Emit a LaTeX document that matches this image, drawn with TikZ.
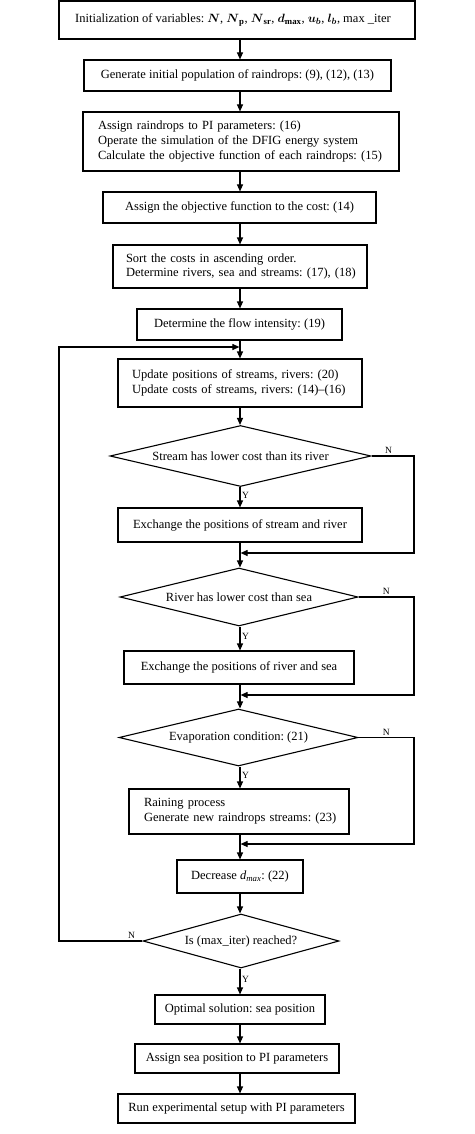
\documentclass[tikz,border=0pt]{standalone}
\usepackage{amsmath}
\usepackage{fontspec}
\setmainfont{Liberation Serif}
\usetikzlibrary{shapes.geometric,arrows.meta,calc}
\frenchspacing
\begin{document}
\begin{tikzpicture}[x=1pt,y=-1pt,
  font=\fontsize{12.5}{14.8}\selectfont,
  box/.style={draw, line width=1.1pt, inner sep=0pt, align=center},
  lbox/.style={draw, line width=1.1pt, inner ysep=0pt, align=left},
  dia/.style={draw, diamond, line width=1.1pt, inner sep=0pt, aspect=4},
  arr/.style={-{Triangle[length=7pt,width=6pt]}, line width=1.1pt},
  lbl/.style={font=\fontsize{9.5}{10}\selectfont, inner sep=1.5pt}]
\useasboundingbox (0,0) rectangle (474,1134);
\fill[white] (0,0) rectangle (474,1134);
\coordinate (sp) at (240,0);
\coordinate (rx) at (414,0);
\coordinate (lx) at (59,0);

\node[box, minimum width=356pt, minimum height=38pt] (b1) at (237,20)
 {Initialization of variables: $\boldsymbol{N}$, $\boldsymbol{N}_{\mathbf{p}}$,\ $\boldsymbol{N}_{\mathbf{sr}}$,\ $\boldsymbol{d}_{\mathbf{max}}$, $\boldsymbol{u_b}$, $\boldsymbol{l_b}$,\ $\mathrm{max\ \_iter}$\hspace{8pt}};
\node[box, minimum width=307pt, minimum height=31pt] (b2) at (237.5,75.5)
 {Generate initial population of raindrops: (9), (12), (13)};
\node[lbox, inner xsep=15pt, text width=286pt, minimum height=59pt] (b3) at (241,141.5)
 {\mbox{Assign raindrops to PI parameters: (16)}\\\mbox{Operate the simulation of the DFIG energy system}\\\mbox{Calculate the objective function of each raindrops: (15)}};
\node[box, minimum width=273pt, minimum height=31pt] (b4) at (239.5,207.5)
 {Assign the objective function to the cost: (14)};
\node[lbox, inner xsep=13pt, text width=228pt, minimum height=43pt] (b5) at (240,266.5)
 {\mbox{Sort the costs in ascending order.}\\\mbox{Determine rivers, sea and streams: (17), (18)}};
\node[box, minimum width=205pt, minimum height=31pt] (b6) at (239.5,324.5)
 {Determine the flow intensity: (19)};
\node[lbox, inner xsep=14pt, text width=216pt, minimum height=48pt] (b7) at (240,383)
 {\mbox{Update positions of streams, rivers: (20)}\\\mbox{Update costs of streams, rivers: (14)\textendash(16)}};
\node[dia, minimum width=261pt, minimum height=61pt] (d1) at (240.5,456)
 {Stream has lower cost than its river};
\node[box, minimum width=244pt, minimum height=34pt] (b8) at (240,525)
 {Exchange the positions of stream and river};
\node[dia, minimum width=238pt, minimum height=58pt] (d2) at (239,597)
 {River has lower cost than sea};
\node[box, minimum width=230pt, minimum height=33pt] (b9) at (239,667.5)
 {Exchange the positions of river and sea};
\node[dia, minimum width=239pt, minimum height=57pt] (d3) at (238.5,737.5)
 {Evaporation condition: (21)};
\node[lbox, inner xsep=15pt, text width=190pt, minimum height=45pt] (b10) at (239,811.5)
 {\mbox{Raining process}\\\mbox{Generate new raindrops streams: (23)}};
\node[box, minimum width=126pt, minimum height=33pt] (b11) at (240,876.5)
 {Decrease \textit{d}\textsubscript{\textit{max}}: (22)};
\node[dia, minimum width=196pt, minimum height=54pt] (d4) at (241,941)
 {Is ($\mathrm{max\_iter}$) reached?};
\node[box, minimum width=170pt, minimum height=29pt] (b12) at (240,1009.5)
 {Optimal solution: sea position};
\node[box, minimum width=204pt, minimum height=29pt] (b13) at (237,1058.5)
 {Assign sea position to PI parameters};
\node[box, minimum width=237pt, minimum height=29pt] (b14) at (236.5,1108.5)
 {Run experimental setup with PI parameters};

\coordinate (j1) at (240.6,553);
\coordinate (j2) at (240.6,695);
\coordinate (j3) at (240.6,844);
\coordinate (jl) at (239.4,347);

\draw[arr] (b1.south -| sp) -- (b2.north -| sp);
\draw[arr] (b2.south -| sp) -- (b3.north -| sp);
\draw[arr] (b3.south -| sp) -- (b4.north -| sp);
\draw[arr] (b4.south -| sp) -- (b5.north -| sp);
\draw[arr] (b5.south -| sp) -- (b6.north -| sp);
\draw[arr] (b6.south -| sp) -- (b7.north -| sp);
\draw[arr] (b7.south -| sp) -- (d1.north -| sp);
\draw[arr] (d1.south -| sp) -- node[lbl, right, pos=0.4]{Y} (b8.north -| sp);
\draw[arr] (b8.south -| sp) -- (d2.north -| sp);
\draw[arr] (d2.south -| sp) -- node[lbl, right, pos=0.4]{Y} (b9.north -| sp);
\draw[arr] (b9.south -| sp) -- (d3.north -| sp);
\draw[arr] (d3.south -| sp) -- node[lbl, right, pos=0.4]{Y} (b10.north -| sp);
\draw[arr] (b10.south -| sp) -- (b11.north -| sp);
\draw[arr] (b11.south -| sp) -- (d4.north -| sp);
\draw[arr] (d4.south -| sp) -- node[lbl, right, pos=0.4]{Y} (b12.north -| sp);
\draw[arr] (b12.south -| sp) -- (b13.north -| sp);
\draw[arr] (b13.south -| sp) -- (b14.north -| sp);

\draw[arr] (d1.east) -- node[lbl, above, pos=0.4]{N} (d1.east -| rx) |- (j1);
\draw[arr] (d2.east) -- node[lbl, above, pos=0.5]{N} (d2.east -| rx) |- (j2);
\draw[arr] (d3.east) -- node[lbl, above, pos=0.5]{N} (d3.east -| rx) |- (j3);
\draw[arr] (d4.west) -- node[lbl, above, pos=0.13]{N} (d4.west -| lx) |- (jl);
\end{tikzpicture}
\end{document}
